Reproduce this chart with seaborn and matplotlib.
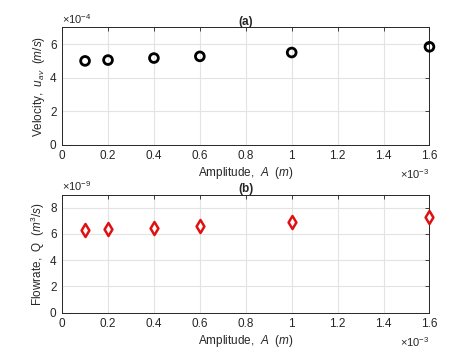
import matplotlib
matplotlib.use("Agg")
import matplotlib.pyplot as plt
import seaborn as sns
import pandas as pd
from matplotlib.ticker import FuncFormatter

# data
amplitude = [0.1e-3, 0.2e-3, 0.4e-3, 0.6e-3, 1.0e-3, 1.6e-3]
velocity = [5.00e-4, 5.05e-4, 5.17e-4, 5.27e-4, 5.50e-4, 5.84e-4]
flowrate = [6.28e-9, 6.35e-9, 6.48e-9, 6.63e-9, 6.91e-9, 7.32e-9]
xticks = [0, 0.2e-3, 0.4e-3, 0.6e-3, 0.8e-3, 1.0e-3, 1.2e-3, 1.4e-3, 1.6e-3]

sns.set_style("white")
plt.rcParams["font.family"] = ["Liberation Sans", "DejaVu Sans"]
plt.rcParams.update({
    "font.size": 8.5,
    "mathtext.fontset": "custom",
    "mathtext.rm": "Liberation Sans",
    "mathtext.it": "Liberation Sans:italic",
    "mathtext.bf": "Liberation Sans:bold",
})

df = pd.DataFrame({"A": amplitude, "u": velocity, "Q": flowrate})

fig = plt.figure(figsize=(4.74, 3.55), dpi=100)
ax1 = fig.add_axes([0.131, 0.592, 0.775, 0.331])
ax2 = fig.add_axes([0.131, 0.119, 0.775, 0.333])

sns.scatterplot(data=df, x="A", y="u", ax=ax1, marker="o", s=40,
                facecolor="none", edgecolor="black", linewidth=2.0, clip_on=False, zorder=5)
sns.scatterplot(data=df, x="A", y="Q", ax=ax2, marker="d", s=44,
                facecolor="white", edgecolor="#e01010", linewidth=1.8, clip_on=False, zorder=5)

def setup(ax, ymax, yticks, yscale, ylabel, title, yexp):
    ax.set_xlim(0, 1.6e-3)
    ax.set_ylim(0, ymax)
    ax.set_xticks(xticks)
    ax.set_yticks(yticks)
    ax.xaxis.set_major_formatter(FuncFormatter(lambda v, p: f"{v*1e3:g}"))
    ax.yaxis.set_major_formatter(FuncFormatter(lambda v, p: f"{v/yscale:g}"))
    ax.grid(True, color="#e3e3e3", linewidth=0.8)
    ax.set_axisbelow(True)
    for s in ax.spines.values():
        s.set_visible(True)
        s.set_color("#262626")
        s.set_linewidth(0.7)
    ax.tick_params(direction="in", length=3, width=0.6, color="#262626",
                   top=True, right=True, labelsize=8.5, labelcolor="#262626", pad=4)
    ax.set_xlabel(r"Amplitude,  $\mathit{A}$  $\mathit{(m)}$", fontsize=8.5, color="#262626", labelpad=2)
    ax.set_ylabel(ylabel, fontsize=8.5, color="#262626", labelpad=2)
    ax.set_title(title, fontsize=8.5, fontweight="bold", pad=2)
    ax.text(0.0, 1.01, r"$\times10^{%d}$" % yexp, transform=ax.transAxes,
            fontsize=8, color="#262626", ha="left", va="bottom")
    ax.text(1.0, -0.19, r"$\times10^{-3}$", transform=ax.transAxes,
            fontsize=8, color="#262626", ha="right", va="top")

setup(ax1, 7e-4, [0, 2e-4, 4e-4, 6e-4], 1e-4,
      r"Velocity,  $\mathit{u_{av}}$  $\mathit{(m/s)}$", "(a)", -4)
setup(ax2, 9e-9, [0, 2e-9, 4e-9, 6e-9, 8e-9], 1e-9,
      r"Flowrate,  Q  $\mathit{(m^3/s)}$", "(b)", -9)

fig.savefig("out.png", dpi=100)
